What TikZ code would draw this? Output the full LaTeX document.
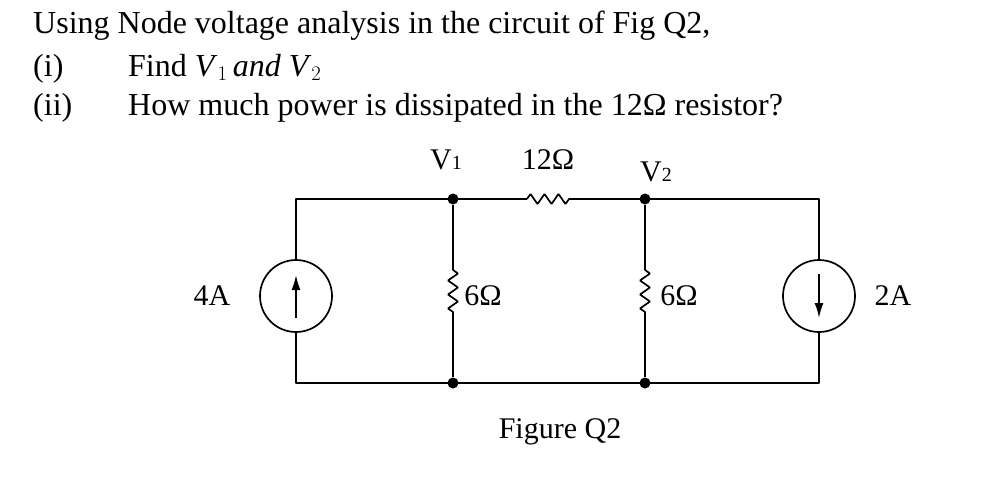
\documentclass[tikz,border=0pt]{standalone}
\usepackage{fontspec}
\setmainfont{Liberation Serif}
\usetikzlibrary{decorations.pathmorphing, calc, arrows, arrows.meta}
\begin{document}
\begin{tikzpicture}[x=1pt,y=-1pt,>=latex',line join=bevel,
    wire/.style={line width=1.7pt},
    res/.style={wire,decorate,decoration={zigzag,segment length=14,amplitude=5}},
    dot/.style={circle,fill=black,inner sep=0pt,minimum size=11pt},
    src/.style={circle,draw,line width=1.7pt,minimum size=72pt,inner sep=0pt},
    arr/.style={wire,-{Latex[length=15pt,width=9pt]}},
    lbl/.style={font=\fontsize{30}{32}\selectfont},
    txt/.style={font=\fontsize{32}{34}\selectfont,anchor=base west,inner sep=0pt}]
  \useasboundingbox (0,0) rectangle (1004,488);
%%
  % Question text
  \node[txt] at (33,33) {Using Node voltage analysis in the circuit of Fig Q2,};
  \node[txt] at (33,76) {(i)};
  \node[txt] at (128,76) {Find \textit{V}$_1$\,\textit{and V}$_2$};
  \node[txt] at (33,115) {(ii)};
  \node[txt] at (128,115) {How much power is dissipated in the 12Ω resistor?};
  % Corners and nodes
  \coordinate (tl) at (296,199);
  \coordinate (bl) at (296,383);
  \coordinate (tr) at (819,199);
  \coordinate (br) at (819,383);
  \node[dot] (v1) at (453,199) {};
  \node[dot] (v2) at (645,199) {};
  \node[dot] (g1) at (453,383) {};
  \node[dot] (g2) at (645,383) {};
  % Sources
  \node[src] (sa) at (296,296) {};
  \node[src] (sb) at (819,296) {};
  \draw[arr] (296,318) -- (296,275);
  \draw[arr] (819,274) -- (819,318);
  % Resistor ends
  \coordinate (ra) at (527,199);
  \coordinate (rb) at (574,199);
  \coordinate (r1a) at (453,270);
  \coordinate (r1b) at (453,318);
  \coordinate (r2a) at (645,270);
  \coordinate (r2b) at (645,318);
  % Wires
  \draw[wire] (sa.north) -- (tl) -- (v1.center) -- (ra);
  \draw[res] (ra) -- (rb);
  \draw[wire] (rb) -- (v2.center) -- (tr) -- (sb.north);
  \draw[wire] (sa.south) -- (bl) -- (br) -- (sb.south);
  \draw[wire] (v1) -- (r1a);
  \draw[res] (r1a) -- (r1b);
  \draw[wire] (r1b) -- (g1);
  \draw[wire] (v2) -- (r2a);
  \draw[res] (r2a) -- (r2b);
  \draw[wire] (r2b) -- (g2);
  % Labels
  \node[lbl] at (446,160) {V{\fontsize{20}{21}\selectfont 1}};
  \node[lbl] at (548,160) {12Ω};
  \node[lbl] at (656,172) {V{\fontsize{20}{21}\selectfont 2}};
  \node[lbl] at (212,296) {4A};
  \node[lbl] at (893,296) {2A};
  \node[lbl] at (483,296) {6Ω};
  \node[lbl] at (679,296) {6Ω};
  \node[lbl] at (560,432) {Figure Q2};
%
\end{tikzpicture}
\end{document}
